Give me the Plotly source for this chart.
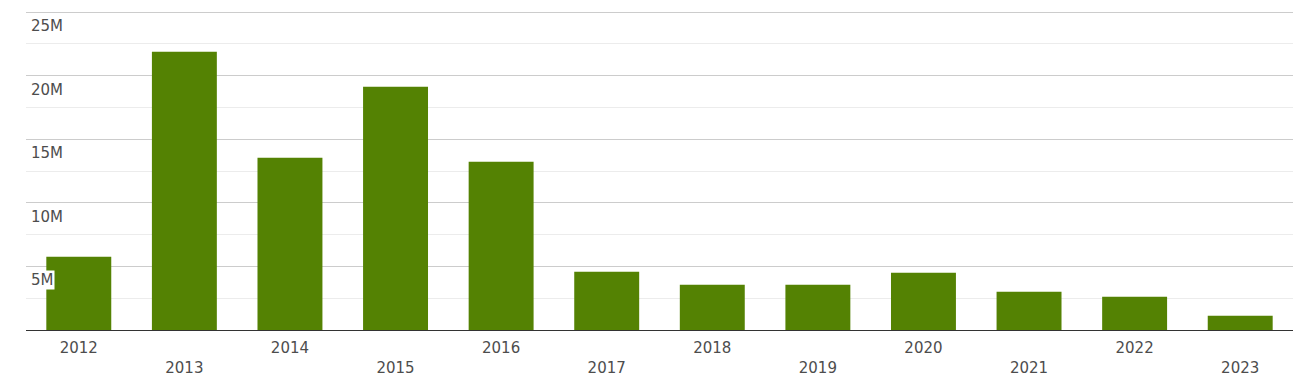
import plotly.graph_objects as go

years = ["2012", "2013", "2014", "2015", "2016", "2017", "2018", "2019", "2020", "2021", "2022", "2023"]
values = [5.76e6, 21.88e6, 13.55e6, 19.13e6, 13.23e6, 4.58e6, 3.56e6, 3.56e6, 4.50e6, 3.01e6, 2.62e6, 1.12e6]
y_tick_vals = [5e6, 10e6, 15e6, 20e6, 25e6]
y_tick_text = ["5M", "10M", "15M", "20M", "25M"]
x_tick_text = [y if i % 2 == 0 else "<br>" + y for i, y in enumerate(years)]

fig = go.Figure()
fig.add_trace(go.Bar(x=years, y=values, marker=dict(color="#548203", line=dict(width=0)),
                     hoverinfo="x+y"))

for v, t in zip(y_tick_vals, y_tick_text):
    fig.add_annotation(x=0, xref="paper", y=v, yref="y", text=t, showarrow=False,
                       xanchor="left", yanchor="top", xshift=4, yshift=-4,
                       bgcolor="white", borderpad=0,
                       font=dict(family="DejaVu Sans", size=15, color="#4d4d4d"))

fig.update_layout(
    width=1293, height=384,
    margin=dict(l=26, r=0, t=11, b=54),
    paper_bgcolor="white", plot_bgcolor="white",
    bargap=0.385, showlegend=False,
    font=dict(family="DejaVu Sans", size=15, color="#4d4d4d"),
    xaxis=dict(tickmode="array", tickvals=years, ticktext=x_tick_text,
               showgrid=False, ticks="", showline=True, linecolor="#333333", linewidth=1,
               ticklabelstandoff=4,
               tickfont=dict(size=15, color="#4d4d4d")),
    yaxis=dict(range=[0, 25.08e6], tickvals=[0, 5e6, 10e6, 15e6, 20e6, 25e6], showticklabels=False,
               showgrid=True, gridcolor="#cccccc", gridwidth=1, zeroline=False,
               minor=dict(dtick=2.5e6, showgrid=True, gridcolor="#ececec", gridwidth=1)),
)
fig.write_html("out.html")
